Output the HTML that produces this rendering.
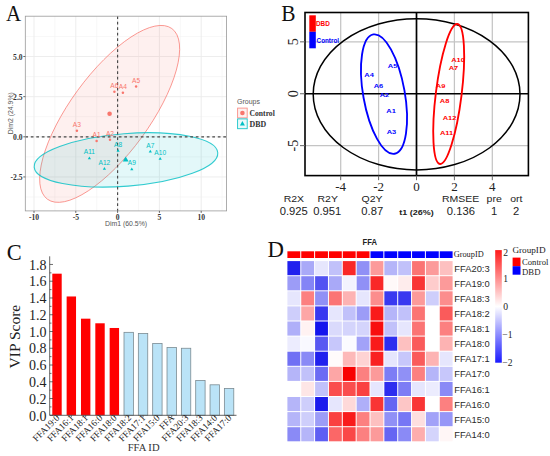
<!DOCTYPE html>
<html><head><meta charset="utf-8"><style>
html,body{margin:0;padding:0;background:#fff;}
svg{display:block;}
</style></head><body>
<svg width="550" height="456" viewBox="0 0 550 456">
<rect width="550" height="456" fill="#fff"/>
<text transform="translate(5.9 20.6) scale(0.92 1)" font-family="'Liberation Serif', serif" font-size="22.8" fill="#111">A</text>
<rect x="25.3" y="16.2" width="201.29999999999998" height="194.70000000000002" fill="#fff"/>
<path d="M54.90 16.2V210.9M96.70 16.2V210.9M138.50 16.2V210.9M180.30 16.2V210.9M222.10 16.2V210.9M25.3 197.03H226.6M25.3 156.88H226.6M25.3 116.73H226.6M25.3 76.58H226.6M25.3 36.43H226.6" stroke="#f2f2f2" stroke-width="0.6" fill="none"/>
<path d="M34.00 16.2V210.9M75.80 16.2V210.9M117.60 16.2V210.9M159.40 16.2V210.9M201.20 16.2V210.9M25.3 176.95H226.6M25.3 136.80H226.6M25.3 96.65H226.6M25.3 56.50H226.6" stroke="#ebebeb" stroke-width="0.9" fill="none"/>
<ellipse cx="109.66" cy="113.9" rx="105.6" ry="39.7" transform="rotate(-53.9 109.66 113.9)" fill="#F8766D" fill-opacity="0.11" stroke="#F8766D" stroke-width="0.9" stroke-opacity="0.75"/>
<ellipse cx="125.98" cy="159.9" rx="92.07" ry="26.3" transform="rotate(-4.5 125.98 159.9)" fill="#00BFC4" fill-opacity="0.11" stroke="#00BFC4" stroke-width="1.1" stroke-opacity="0.8"/>
<path d="M25.3 136.8H226.6M117.6 16.2V210.9" stroke="#484848" stroke-width="1.15" stroke-dasharray="2.7 2.8" fill="none"/>
<rect x="25.3" y="16.2" width="201.29999999999998" height="194.70000000000002" fill="none" stroke="#999" stroke-width="0.8"/>
<circle cx="96.6" cy="140.9" r="1.25" fill="#F8766D"/>
<text x="96.6" y="137.1" font-family="'Liberation Sans', sans-serif" font-size="6.6" fill="#F8766D" text-anchor="middle">A1</text>
<circle cx="110" cy="139.8" r="1.25" fill="#F8766D"/>
<text x="110" y="136.0" font-family="'Liberation Sans', sans-serif" font-size="6.6" fill="#F8766D" text-anchor="middle">A2</text>
<circle cx="76.9" cy="130.8" r="1.25" fill="#F8766D"/>
<text x="76.9" y="127.00000000000001" font-family="'Liberation Sans', sans-serif" font-size="6.6" fill="#F8766D" text-anchor="middle">A3</text>
<circle cx="122.9" cy="92.8" r="1.25" fill="#F8766D"/>
<text x="122.9" y="89.0" font-family="'Liberation Sans', sans-serif" font-size="6.6" fill="#F8766D" text-anchor="middle">A4</text>
<circle cx="136.1" cy="86.4" r="1.25" fill="#F8766D"/>
<text x="136.1" y="82.60000000000001" font-family="'Liberation Sans', sans-serif" font-size="6.6" fill="#F8766D" text-anchor="middle">A5</text>
<circle cx="114.4" cy="91.7" r="1.25" fill="#F8766D"/>
<text x="114.4" y="87.9" font-family="'Liberation Sans', sans-serif" font-size="6.6" fill="#F8766D" text-anchor="middle">A6</text>
<path d="M150.3 149.8L151.9 152.5L148.70000000000002 152.5Z" fill="#00BFC4"/>
<text x="150.3" y="147.6" font-family="'Liberation Sans', sans-serif" font-size="6.6" fill="#00BFC4" text-anchor="middle">A7</text>
<path d="M118.1 149.1L119.69999999999999 151.79999999999998L116.5 151.79999999999998Z" fill="#00BFC4"/>
<text x="118.1" y="146.89999999999998" font-family="'Liberation Sans', sans-serif" font-size="6.6" fill="#00BFC4" text-anchor="middle">A8</text>
<path d="M131.8 167.6L133.4 170.29999999999998L130.20000000000002 170.29999999999998Z" fill="#00BFC4"/>
<text x="131.8" y="165.39999999999998" font-family="'Liberation Sans', sans-serif" font-size="6.6" fill="#00BFC4" text-anchor="middle">A9</text>
<path d="M160.2 157.1L161.79999999999998 159.79999999999998L158.6 159.79999999999998Z" fill="#00BFC4"/>
<text x="160.2" y="154.89999999999998" font-family="'Liberation Sans', sans-serif" font-size="6.6" fill="#00BFC4" text-anchor="middle">A10</text>
<path d="M89.4 156.5L91.0 159.2L87.80000000000001 159.2Z" fill="#00BFC4"/>
<text x="89.4" y="154.29999999999998" font-family="'Liberation Sans', sans-serif" font-size="6.6" fill="#00BFC4" text-anchor="middle">A11</text>
<path d="M104.4 167.0L106.0 169.7L102.80000000000001 169.7Z" fill="#00BFC4"/>
<text x="104.4" y="164.79999999999998" font-family="'Liberation Sans', sans-serif" font-size="6.6" fill="#00BFC4" text-anchor="middle">A12</text>
<circle cx="109.6" cy="113.7" r="2.3" fill="#F8766D"/>
<path d="M125.7 156.4L128.6 161.6L122.8 161.6Z" fill="#00BFC4"/>
<path d="M34.00 210.9v2M75.80 210.9v2M117.60 210.9v2M159.40 210.9v2M201.20 210.9v2M25.3 176.95h-2M25.3 136.80h-2M25.3 96.65h-2M25.3 56.50h-2" stroke="#444" stroke-width="0.8"/>
<text x="34.00" y="220.1" font-family="'Liberation Serif', serif" font-size="7.6" font-weight="bold" fill="#333" text-anchor="middle">-10</text>
<text x="75.80" y="220.1" font-family="'Liberation Serif', serif" font-size="7.6" font-weight="bold" fill="#333" text-anchor="middle">-5</text>
<text x="117.60" y="220.1" font-family="'Liberation Serif', serif" font-size="7.6" font-weight="bold" fill="#333" text-anchor="middle">0</text>
<text x="159.40" y="220.1" font-family="'Liberation Serif', serif" font-size="7.6" font-weight="bold" fill="#333" text-anchor="middle">5</text>
<text x="201.20" y="220.1" font-family="'Liberation Serif', serif" font-size="7.6" font-weight="bold" fill="#333" text-anchor="middle">10</text>
<text x="22.6" y="180.15" font-family="'Liberation Serif', serif" font-size="7.6" font-weight="bold" fill="#333" text-anchor="end">-2.5</text>
<text x="22.6" y="140.00" font-family="'Liberation Serif', serif" font-size="7.6" font-weight="bold" fill="#333" text-anchor="end">0.0</text>
<text x="22.6" y="99.85" font-family="'Liberation Serif', serif" font-size="7.6" font-weight="bold" fill="#333" text-anchor="end">2.5</text>
<text x="22.6" y="59.70" font-family="'Liberation Serif', serif" font-size="7.6" font-weight="bold" fill="#333" text-anchor="end">5.0</text>
<text x="126" y="226" font-family="'Liberation Sans', sans-serif" font-size="6.9" fill="#555" text-anchor="middle">Dim1 (60.5%)</text>
<text transform="translate(13 113.2) rotate(-90)" font-family="'Liberation Sans', sans-serif" font-size="6.9" fill="#555" text-anchor="middle">Dim2 (24.9%)</text>
<text x="237" y="104.3" font-family="'Liberation Sans', sans-serif" font-size="7" fill="#555">Groups</text>
<rect x="237.6" y="108.1" width="9.6" height="9.8" fill="#fdf0ef" stroke="#F8766D" stroke-opacity="0.8" stroke-width="0.9"/>
<circle cx="242.4" cy="113" r="2.3" fill="#F8766D"/>
<rect x="237.6" y="118.9" width="9.6" height="9.8" fill="#eafafa" stroke="#00BFC4" stroke-opacity="0.9" stroke-width="0.9"/>
<path d="M242.4 121.1L244.9 125.6L239.9 125.6Z" fill="#00BFC4"/>
<text x="249.6" y="115.9" font-family="'Liberation Serif', serif" font-size="7.6" font-weight="bold" fill="#333">Control</text>
<text x="249.6" y="126.6" font-family="'Liberation Serif', serif" font-size="7.9" font-weight="bold" fill="#333">DBD</text>
<text transform="translate(281.3 20.8) scale(0.92 1)" font-family="'Liberation Serif', serif" font-size="23.3" fill="#111">B</text>
<path d="M340.70 12.5V175.6M378.60 12.5V175.6M454.40 12.5V175.6M492.30 12.5V175.6M305.0 145.65H528.4M305.0 41.85H528.4" stroke="#c4c4c4" stroke-width="1.25" fill="none"/>
<path d="M305.0 93.75H528.4M416.5 12.5V175.6" stroke="#000" stroke-width="1.7" fill="none"/>
<ellipse cx="416.6" cy="94.3" rx="103.4" ry="75.6" fill="none" stroke="#000" stroke-width="1.5"/>
<ellipse cx="384.0" cy="94.1" rx="20.76" ry="60.6" transform="rotate(-10.1 384.0 94.1)" fill="none" stroke="#0000ff" stroke-width="1.85"/>
<ellipse cx="448.7" cy="94.0" rx="12.88" ry="70.5" transform="rotate(7.1 448.7 94.0)" fill="none" stroke="#ff0000" stroke-width="1.85"/>
<rect x="305.0" y="12.5" width="223.39999999999998" height="163.1" fill="none" stroke="#000" stroke-width="1.6"/>
<rect x="309.3" y="15.3" width="6.5" height="16.5" fill="#ff0000"/>
<rect x="309.3" y="31.8" width="6.5" height="16.5" fill="#0000ff"/>
<text x="316.0" y="25.9" font-family="'Liberation Sans', sans-serif" font-size="6.4" font-weight="bold" fill="#ff0000">DBD</text>
<text x="316.6" y="42.5" font-family="'Liberation Sans', sans-serif" font-size="6.3" font-weight="bold" fill="#0000ff">Control</text>
<text transform="translate(392.6 67.75) scale(1.22 1)" font-family="'Liberation Sans', sans-serif" font-size="6.1" font-weight="bold" fill="#0000ff" text-anchor="middle">A5</text>
<text transform="translate(369.1 76.9) scale(1.22 1)" font-family="'Liberation Sans', sans-serif" font-size="6.1" font-weight="bold" fill="#0000ff" text-anchor="middle">A4</text>
<text transform="translate(378.5 88.35000000000001) scale(1.22 1)" font-family="'Liberation Sans', sans-serif" font-size="6.1" font-weight="bold" fill="#0000ff" text-anchor="middle">A6</text>
<text transform="translate(384.4 96.80000000000001) scale(1.22 1)" font-family="'Liberation Sans', sans-serif" font-size="6.1" font-weight="bold" fill="#0000ff" text-anchor="middle">A2</text>
<text transform="translate(391.1 113.35000000000001) scale(1.22 1)" font-family="'Liberation Sans', sans-serif" font-size="6.1" font-weight="bold" fill="#0000ff" text-anchor="middle">A1</text>
<text transform="translate(391.4 134.05) scale(1.22 1)" font-family="'Liberation Sans', sans-serif" font-size="6.1" font-weight="bold" fill="#0000ff" text-anchor="middle">A3</text>
<text transform="translate(458 61.65) scale(1.22 1)" font-family="'Liberation Sans', sans-serif" font-size="6.1" font-weight="bold" fill="#ff0000" text-anchor="middle">A10</text>
<text transform="translate(453.4 70.15) scale(1.22 1)" font-family="'Liberation Sans', sans-serif" font-size="6.1" font-weight="bold" fill="#ff0000" text-anchor="middle">A7</text>
<text transform="translate(440.6 88.45) scale(1.22 1)" font-family="'Liberation Sans', sans-serif" font-size="6.1" font-weight="bold" fill="#ff0000" text-anchor="middle">A9</text>
<text transform="translate(444.6 102.85000000000001) scale(1.22 1)" font-family="'Liberation Sans', sans-serif" font-size="6.1" font-weight="bold" fill="#ff0000" text-anchor="middle">A8</text>
<text transform="translate(449.5 119.65) scale(1.22 1)" font-family="'Liberation Sans', sans-serif" font-size="6.1" font-weight="bold" fill="#ff0000" text-anchor="middle">A12</text>
<text transform="translate(446.6 135.05) scale(1.22 1)" font-family="'Liberation Sans', sans-serif" font-size="6.1" font-weight="bold" fill="#ff0000" text-anchor="middle">A11</text>
<path d="M340.70 175.6v4.6M378.60 175.6v4.6M416.50 175.6v4.6M454.40 175.6v4.6M492.30 175.6v4.6M305.0 145.65h-5M305.0 93.75h-5M305.0 41.85h-5" stroke="#666" stroke-width="1"/>
<text x="340.70" y="190.9" font-family="'Liberation Serif', serif" font-size="13" fill="#222" text-anchor="middle">-4</text>
<text x="378.60" y="190.9" font-family="'Liberation Serif', serif" font-size="13" fill="#222" text-anchor="middle">-2</text>
<text x="416.50" y="190.9" font-family="'Liberation Serif', serif" font-size="13" fill="#222" text-anchor="middle">0</text>
<text x="454.40" y="190.9" font-family="'Liberation Serif', serif" font-size="13" fill="#222" text-anchor="middle">2</text>
<text x="492.30" y="190.9" font-family="'Liberation Serif', serif" font-size="13" fill="#222" text-anchor="middle">4</text>
<text transform="translate(297.9 145.65) rotate(-90)" font-family="'Liberation Serif', serif" font-size="14" fill="#222" text-anchor="middle">-5</text>
<text transform="translate(297.9 93.75) rotate(-90)" font-family="'Liberation Serif', serif" font-size="14" fill="#222" text-anchor="middle">0</text>
<text transform="translate(297.9 41.85) rotate(-90)" font-family="'Liberation Serif', serif" font-size="14" fill="#222" text-anchor="middle">5</text>
<text transform="translate(293.9 202.1) scale(1.12 1)" font-family="'Liberation Sans', sans-serif" font-size="9.4" fill="#222" text-anchor="middle">R2X</text>
<text transform="translate(327.7 202.1) scale(1.12 1)" font-family="'Liberation Sans', sans-serif" font-size="9.4" fill="#222" text-anchor="middle">R2Y</text>
<text transform="translate(372 202.1) scale(1.12 1)" font-family="'Liberation Sans', sans-serif" font-size="9.4" fill="#222" text-anchor="middle">Q2Y</text>
<text transform="translate(460.65 202.1) scale(1.12 1)" font-family="'Liberation Sans', sans-serif" font-size="9.4" fill="#222" text-anchor="middle">RMSEE</text>
<text transform="translate(494.15 202.1) scale(1.12 1)" font-family="'Liberation Sans', sans-serif" font-size="9.4" fill="#222" text-anchor="middle">pre</text>
<text transform="translate(516.35 202.1) scale(1.12 1)" font-family="'Liberation Sans', sans-serif" font-size="9.4" fill="#222" text-anchor="middle">ort</text>
<text transform="translate(293.8 214.6) scale(1.04 1)" font-family="'Liberation Sans', sans-serif" font-size="10.8" fill="#222" text-anchor="middle">0.925</text>
<text transform="translate(327.2 214.6) scale(1.04 1)" font-family="'Liberation Sans', sans-serif" font-size="10.8" fill="#222" text-anchor="middle">0.951</text>
<text transform="translate(372.2 214.6) scale(1.04 1)" font-family="'Liberation Sans', sans-serif" font-size="10.8" fill="#222" text-anchor="middle">0.87</text>
<text transform="translate(460.9 214.6) scale(1.04 1)" font-family="'Liberation Sans', sans-serif" font-size="10.8" fill="#222" text-anchor="middle">0.136</text>
<text transform="translate(494.2 214.6) scale(1.04 1)" font-family="'Liberation Sans', sans-serif" font-size="10.8" fill="#222" text-anchor="middle">1</text>
<text transform="translate(516.2 214.6) scale(1.04 1)" font-family="'Liberation Sans', sans-serif" font-size="10.8" fill="#222" text-anchor="middle">2</text>
<text transform="translate(416.5 214.6) scale(1.15 1)" font-family="'Liberation Sans', sans-serif" font-size="7.8" font-weight="bold" fill="#222" text-anchor="middle">t1 (26%)</text>
<text transform="translate(6.8 259.6) scale(0.95 1)" font-family="'Liberation Serif', serif" font-size="23.6" fill="#111">C</text>
<rect x="52.30" y="273.68" width="9.4" height="141.62" fill="#ff0000"/>
<rect x="66.64" y="296.47" width="9.4" height="118.83" fill="#ff0000"/>
<rect x="80.98" y="318.68" width="9.4" height="96.62" fill="#ff0000"/>
<rect x="95.32" y="323.29" width="9.4" height="92.01" fill="#ff0000"/>
<rect x="109.66" y="327.98" width="9.4" height="87.32" fill="#ff0000"/>
<rect x="124.00" y="332.34" width="9.4" height="82.96" fill="#bae3f7" stroke="#7b8b92" stroke-width="0.8"/>
<rect x="138.34" y="333.51" width="9.4" height="81.79" fill="#bae3f7" stroke="#7b8b92" stroke-width="0.8"/>
<rect x="152.68" y="343.48" width="9.4" height="71.82" fill="#bae3f7" stroke="#7b8b92" stroke-width="0.8"/>
<rect x="167.02" y="347.42" width="9.4" height="67.88" fill="#bae3f7" stroke="#7b8b92" stroke-width="0.8"/>
<rect x="181.36" y="348.26" width="9.4" height="67.04" fill="#bae3f7" stroke="#7b8b92" stroke-width="0.8"/>
<rect x="195.70" y="380.44" width="9.4" height="34.86" fill="#bae3f7" stroke="#7b8b92" stroke-width="0.8"/>
<rect x="210.04" y="384.80" width="9.4" height="30.50" fill="#bae3f7" stroke="#7b8b92" stroke-width="0.8"/>
<rect x="224.38" y="388.48" width="9.4" height="26.82" fill="#bae3f7" stroke="#7b8b92" stroke-width="0.8"/>
<path d="M49.7 256.3V415.3H236.5" stroke="#555" stroke-width="0.9" fill="none"/>
<path d="M49.7 415.30h3.3M49.7 406.92h1.8M49.7 398.54h3.3M49.7 390.16h1.8M49.7 381.78h3.3M49.7 373.40h1.8M49.7 365.02h3.3M49.7 356.64h1.8M49.7 348.26h3.3M49.7 339.88h1.8M49.7 331.50h3.3M49.7 323.12h1.8M49.7 314.74h3.3M49.7 306.36h1.8M49.7 297.98h3.3M49.7 289.60h1.8M49.7 281.22h3.3M49.7 272.84h1.8M49.7 264.46h3.3M57.00 415.3v2M71.34 415.3v2M85.68 415.3v2M100.02 415.3v2M114.36 415.3v2M128.70 415.3v2M143.04 415.3v2M157.38 415.3v2M171.72 415.3v2M186.06 415.3v2M200.40 415.3v2M214.74 415.3v2M229.08 415.3v2" stroke="#333" stroke-width="0.7"/>
<text x="46.4" y="420.50" font-family="'Liberation Serif', serif" font-size="14" fill="#222" text-anchor="end">0.0</text>
<text x="46.4" y="403.74" font-family="'Liberation Serif', serif" font-size="14" fill="#222" text-anchor="end">0.2</text>
<text x="46.4" y="386.98" font-family="'Liberation Serif', serif" font-size="14" fill="#222" text-anchor="end">0.4</text>
<text x="46.4" y="370.22" font-family="'Liberation Serif', serif" font-size="14" fill="#222" text-anchor="end">0.6</text>
<text x="46.4" y="353.46" font-family="'Liberation Serif', serif" font-size="14" fill="#222" text-anchor="end">0.8</text>
<text x="46.4" y="336.70" font-family="'Liberation Serif', serif" font-size="14" fill="#222" text-anchor="end">1.0</text>
<text x="46.4" y="319.94" font-family="'Liberation Serif', serif" font-size="14" fill="#222" text-anchor="end">1.2</text>
<text x="46.4" y="303.18" font-family="'Liberation Serif', serif" font-size="14" fill="#222" text-anchor="end">1.4</text>
<text x="46.4" y="286.42" font-family="'Liberation Serif', serif" font-size="14" fill="#222" text-anchor="end">1.6</text>
<text x="46.4" y="269.66" font-family="'Liberation Serif', serif" font-size="14" fill="#222" text-anchor="end">1.8</text>
<text transform="translate(60.00 418.5) rotate(-45)" font-family="'Liberation Serif', serif" font-size="9.4" fill="#222" text-anchor="end">FFA19:0</text>
<text transform="translate(74.34 418.5) rotate(-45)" font-family="'Liberation Serif', serif" font-size="9.4" fill="#222" text-anchor="end">FFA16:1</text>
<text transform="translate(88.68 418.5) rotate(-45)" font-family="'Liberation Serif', serif" font-size="9.4" fill="#222" text-anchor="end">FFA18:1</text>
<text transform="translate(103.02 418.5) rotate(-45)" font-family="'Liberation Serif', serif" font-size="9.4" fill="#222" text-anchor="end">FFA16:0</text>
<text transform="translate(117.36 418.5) rotate(-45)" font-family="'Liberation Serif', serif" font-size="9.4" fill="#222" text-anchor="end">FFA18:0</text>
<text transform="translate(131.70 418.5) rotate(-45)" font-family="'Liberation Serif', serif" font-size="9.4" fill="#222" text-anchor="end">FFA18:2</text>
<text transform="translate(146.04 418.5) rotate(-45)" font-family="'Liberation Serif', serif" font-size="9.4" fill="#222" text-anchor="end">FFA17:1</text>
<text transform="translate(160.38 418.5) rotate(-45)" font-family="'Liberation Serif', serif" font-size="9.4" fill="#222" text-anchor="end">FFA15:0</text>
<text transform="translate(174.72 418.5) rotate(-45)" font-family="'Liberation Serif', serif" font-size="9.4" fill="#222" text-anchor="end">FFA</text>
<text transform="translate(189.06 418.5) rotate(-45)" font-family="'Liberation Serif', serif" font-size="9.4" fill="#222" text-anchor="end">FFA20:3</text>
<text transform="translate(203.40 418.5) rotate(-45)" font-family="'Liberation Serif', serif" font-size="9.4" fill="#222" text-anchor="end">FFA18:3</text>
<text transform="translate(217.74 418.5) rotate(-45)" font-family="'Liberation Serif', serif" font-size="9.4" fill="#222" text-anchor="end">FFA14:0</text>
<text transform="translate(232.08 418.5) rotate(-45)" font-family="'Liberation Serif', serif" font-size="9.4" fill="#222" text-anchor="end">FFA17:0</text>
<text transform="translate(20.2 336.6) rotate(-90)" font-family="'Liberation Serif', serif" font-size="15.5" fill="#222" text-anchor="middle">VIP Score</text>
<text x="143.6" y="450.9" font-family="'Liberation Serif', serif" font-size="10.6" fill="#333" text-anchor="middle">FFA ID</text>
<text transform="translate(267.6 256.5) scale(0.95 1)" font-family="'Liberation Serif', serif" font-size="24" fill="#111">D</text>
<text transform="translate(369.8 244.9) scale(0.92 1)" font-family="'Liberation Sans', sans-serif" font-size="8.3" font-weight="bold" fill="#222" text-anchor="middle">FFA</text>
<rect x="287.40" y="251.3" width="12.85" height="6.7" fill="#ff0000"/>
<rect x="301.25" y="251.3" width="12.85" height="6.7" fill="#ff0000"/>
<rect x="315.10" y="251.3" width="12.85" height="6.7" fill="#ff0000"/>
<rect x="328.95" y="251.3" width="12.85" height="6.7" fill="#ff0000"/>
<rect x="342.80" y="251.3" width="12.85" height="6.7" fill="#ff0000"/>
<rect x="356.65" y="251.3" width="12.85" height="6.7" fill="#ff0000"/>
<rect x="370.50" y="251.3" width="12.85" height="6.7" fill="#0000ff"/>
<rect x="384.35" y="251.3" width="12.85" height="6.7" fill="#0000ff"/>
<rect x="398.20" y="251.3" width="12.85" height="6.7" fill="#0000ff"/>
<rect x="412.05" y="251.3" width="12.85" height="6.7" fill="#0000ff"/>
<rect x="425.90" y="251.3" width="12.85" height="6.7" fill="#0000ff"/>
<rect x="439.75" y="251.3" width="12.85" height="6.7" fill="#0000ff"/>
<rect x="287.40" y="261.10" width="12.85" height="14.10" fill="#2121ee"/>
<rect x="301.25" y="261.10" width="12.85" height="14.10" fill="#a9a9f8"/>
<rect x="315.10" y="261.10" width="12.85" height="14.10" fill="#e6e6fd"/>
<rect x="328.95" y="261.10" width="12.85" height="14.10" fill="#c1c1fa"/>
<rect x="342.80" y="261.10" width="12.85" height="14.10" fill="#f92828"/>
<rect x="356.65" y="261.10" width="12.85" height="14.10" fill="#9090f6"/>
<rect x="370.50" y="261.10" width="12.85" height="14.10" fill="#fc9a9a"/>
<rect x="384.35" y="261.10" width="12.85" height="14.10" fill="#b5b5f9"/>
<rect x="398.20" y="261.10" width="12.85" height="14.10" fill="#c1c1fa"/>
<rect x="412.05" y="261.10" width="12.85" height="14.10" fill="#fb7474"/>
<rect x="425.90" y="261.10" width="12.85" height="14.10" fill="#fc9a9a"/>
<rect x="439.75" y="261.10" width="12.85" height="14.10" fill="#fdc0c0"/>
<text transform="translate(454.3 271.70) scale(0.945 1)" font-family="'Liberation Sans', sans-serif" font-size="9.9" fill="#2a2a2a">FFA20:3</text>
<rect x="287.40" y="276.20" width="12.85" height="14.10" fill="#9c9cf7"/>
<rect x="301.25" y="276.20" width="12.85" height="14.10" fill="#8484f6"/>
<rect x="315.10" y="276.20" width="12.85" height="14.10" fill="#5252f2"/>
<rect x="328.95" y="276.20" width="12.85" height="14.10" fill="#a9a9f8"/>
<rect x="342.80" y="276.20" width="12.85" height="14.10" fill="#f3f3fe"/>
<rect x="356.65" y="276.20" width="12.85" height="14.10" fill="#9090f6"/>
<rect x="370.50" y="276.20" width="12.85" height="14.10" fill="#f92828"/>
<rect x="384.35" y="276.20" width="12.85" height="14.10" fill="#fff9f9"/>
<rect x="398.20" y="276.20" width="12.85" height="14.10" fill="#feecec"/>
<rect x="412.05" y="276.20" width="12.85" height="14.10" fill="#f93535"/>
<rect x="425.90" y="276.20" width="12.85" height="14.10" fill="#fecccc"/>
<rect x="439.75" y="276.20" width="12.85" height="14.10" fill="#fc9a9a"/>
<text transform="translate(454.3 286.80) scale(0.945 1)" font-family="'Liberation Sans', sans-serif" font-size="9.9" fill="#2a2a2a">FFA19:0</text>
<rect x="287.40" y="291.30" width="12.85" height="14.10" fill="#e6e6fd"/>
<rect x="301.25" y="291.30" width="12.85" height="14.10" fill="#fc8080"/>
<rect x="315.10" y="291.30" width="12.85" height="14.10" fill="#9090f6"/>
<rect x="328.95" y="291.30" width="12.85" height="14.10" fill="#fb7474"/>
<rect x="342.80" y="291.30" width="12.85" height="14.10" fill="#fdb3b3"/>
<rect x="356.65" y="291.30" width="12.85" height="14.10" fill="#e6e6fd"/>
<rect x="370.50" y="291.30" width="12.85" height="14.10" fill="#fc8d8d"/>
<rect x="384.35" y="291.30" width="12.85" height="14.10" fill="#3939f0"/>
<rect x="398.20" y="291.30" width="12.85" height="14.10" fill="#3939f0"/>
<rect x="412.05" y="291.30" width="12.85" height="14.10" fill="#fc9a9a"/>
<rect x="425.90" y="291.30" width="12.85" height="14.10" fill="#cecefb"/>
<rect x="439.75" y="291.30" width="12.85" height="14.10" fill="#fc8d8d"/>
<text transform="translate(454.3 301.90) scale(0.945 1)" font-family="'Liberation Sans', sans-serif" font-size="9.9" fill="#2a2a2a">FFA18:3</text>
<rect x="287.40" y="306.40" width="12.85" height="14.10" fill="#cecefb"/>
<rect x="301.25" y="306.40" width="12.85" height="14.10" fill="#fda6a6"/>
<rect x="315.10" y="306.40" width="12.85" height="14.10" fill="#3939f0"/>
<rect x="328.95" y="306.40" width="12.85" height="14.10" fill="#e6e6fd"/>
<rect x="342.80" y="306.40" width="12.85" height="14.10" fill="#c1c1fa"/>
<rect x="356.65" y="306.40" width="12.85" height="14.10" fill="#9c9cf7"/>
<rect x="370.50" y="306.40" width="12.85" height="14.10" fill="#f91b1b"/>
<rect x="384.35" y="306.40" width="12.85" height="14.10" fill="#b5b5f9"/>
<rect x="398.20" y="306.40" width="12.85" height="14.10" fill="#c1c1fa"/>
<rect x="412.05" y="306.40" width="12.85" height="14.10" fill="#fb7474"/>
<rect x="425.90" y="306.40" width="12.85" height="14.10" fill="#ffffff"/>
<rect x="439.75" y="306.40" width="12.85" height="14.10" fill="#fa5b5b"/>
<text transform="translate(454.3 317.00) scale(0.945 1)" font-family="'Liberation Sans', sans-serif" font-size="9.9" fill="#2a2a2a">FFA18:2</text>
<rect x="287.40" y="321.50" width="12.85" height="14.10" fill="#afaff9"/>
<rect x="301.25" y="321.50" width="12.85" height="14.10" fill="#fff2f2"/>
<rect x="315.10" y="321.50" width="12.85" height="14.10" fill="#1414ed"/>
<rect x="328.95" y="321.50" width="12.85" height="14.10" fill="#dadafc"/>
<rect x="342.80" y="321.50" width="12.85" height="14.10" fill="#d4d4fc"/>
<rect x="356.65" y="321.50" width="12.85" height="14.10" fill="#d4d4fc"/>
<rect x="370.50" y="321.50" width="12.85" height="14.10" fill="#f80f0f"/>
<rect x="384.35" y="321.50" width="12.85" height="14.10" fill="#c1c1fa"/>
<rect x="398.20" y="321.50" width="12.85" height="14.10" fill="#e6e6fd"/>
<rect x="412.05" y="321.50" width="12.85" height="14.10" fill="#fb7474"/>
<rect x="425.90" y="321.50" width="12.85" height="14.10" fill="#ffffff"/>
<rect x="439.75" y="321.50" width="12.85" height="14.10" fill="#fc8080"/>
<text transform="translate(454.3 332.10) scale(0.945 1)" font-family="'Liberation Sans', sans-serif" font-size="9.9" fill="#2a2a2a">FFA18:1</text>
<rect x="287.40" y="336.60" width="12.85" height="14.10" fill="#ececfe"/>
<rect x="301.25" y="336.60" width="12.85" height="14.10" fill="#f9f9ff"/>
<rect x="315.10" y="336.60" width="12.85" height="14.10" fill="#5858f2"/>
<rect x="328.95" y="336.60" width="12.85" height="14.10" fill="#c7c7fb"/>
<rect x="342.80" y="336.60" width="12.85" height="14.10" fill="#fbfbff"/>
<rect x="356.65" y="336.60" width="12.85" height="14.10" fill="#a2a2f8"/>
<rect x="370.50" y="336.60" width="12.85" height="14.10" fill="#f91b1b"/>
<rect x="384.35" y="336.60" width="12.85" height="14.10" fill="#2d2def"/>
<rect x="398.20" y="336.60" width="12.85" height="14.10" fill="#fdc0c0"/>
<rect x="412.05" y="336.60" width="12.85" height="14.10" fill="#fa5b5b"/>
<rect x="425.90" y="336.60" width="12.85" height="14.10" fill="#ffffff"/>
<rect x="439.75" y="336.60" width="12.85" height="14.10" fill="#fdb3b3"/>
<text transform="translate(454.3 347.20) scale(0.945 1)" font-family="'Liberation Sans', sans-serif" font-size="9.9" fill="#2a2a2a">FFA18:0</text>
<rect x="287.40" y="351.70" width="12.85" height="14.10" fill="#7171f4"/>
<rect x="301.25" y="351.70" width="12.85" height="14.10" fill="#8a8af6"/>
<rect x="315.10" y="351.70" width="12.85" height="14.10" fill="#2121ee"/>
<rect x="328.95" y="351.70" width="12.85" height="14.10" fill="#fffbfb"/>
<rect x="342.80" y="351.70" width="12.85" height="14.10" fill="#fdb9b9"/>
<rect x="356.65" y="351.70" width="12.85" height="14.10" fill="#fed3d3"/>
<rect x="370.50" y="351.70" width="12.85" height="14.10" fill="#f92222"/>
<rect x="384.35" y="351.70" width="12.85" height="14.10" fill="#e6e6fd"/>
<rect x="398.20" y="351.70" width="12.85" height="14.10" fill="#c7c7fb"/>
<rect x="412.05" y="351.70" width="12.85" height="14.10" fill="#fa5b5b"/>
<rect x="425.90" y="351.70" width="12.85" height="14.10" fill="#fdb3b3"/>
<rect x="439.75" y="351.70" width="12.85" height="14.10" fill="#e6e6fd"/>
<text transform="translate(454.3 362.30) scale(0.945 1)" font-family="'Liberation Sans', sans-serif" font-size="9.9" fill="#2a2a2a">FFA17:1</text>
<rect x="287.40" y="366.80" width="12.85" height="14.10" fill="#b5b5f9"/>
<rect x="301.25" y="366.80" width="12.85" height="14.10" fill="#c1c1fa"/>
<rect x="315.10" y="366.80" width="12.85" height="14.10" fill="#6b6bf4"/>
<rect x="328.95" y="366.80" width="12.85" height="14.10" fill="#fda6a6"/>
<rect x="342.80" y="366.80" width="12.85" height="14.10" fill="#f80202"/>
<rect x="356.65" y="366.80" width="12.85" height="14.10" fill="#fc8080"/>
<rect x="370.50" y="366.80" width="12.85" height="14.10" fill="#fc9a9a"/>
<rect x="384.35" y="366.80" width="12.85" height="14.10" fill="#7d7df5"/>
<rect x="398.20" y="366.80" width="12.85" height="14.10" fill="#9090f6"/>
<rect x="412.05" y="366.80" width="12.85" height="14.10" fill="#fc8080"/>
<rect x="425.90" y="366.80" width="12.85" height="14.10" fill="#b5b5f9"/>
<rect x="439.75" y="366.80" width="12.85" height="14.10" fill="#c7c7fb"/>
<text transform="translate(454.3 377.40) scale(0.945 1)" font-family="'Liberation Sans', sans-serif" font-size="9.9" fill="#2a2a2a">FFA17:0</text>
<rect x="287.40" y="381.90" width="12.85" height="14.10" fill="#ffffff"/>
<rect x="301.25" y="381.90" width="12.85" height="14.10" fill="#fee6e6"/>
<rect x="315.10" y="381.90" width="12.85" height="14.10" fill="#c1c1fa"/>
<rect x="328.95" y="381.90" width="12.85" height="14.10" fill="#fa4e4e"/>
<rect x="342.80" y="381.90" width="12.85" height="14.10" fill="#fa4e4e"/>
<rect x="356.65" y="381.90" width="12.85" height="14.10" fill="#fa4141"/>
<rect x="370.50" y="381.90" width="12.85" height="14.10" fill="#e6e6fd"/>
<rect x="384.35" y="381.90" width="12.85" height="14.10" fill="#2d2def"/>
<rect x="398.20" y="381.90" width="12.85" height="14.10" fill="#7d7df5"/>
<rect x="412.05" y="381.90" width="12.85" height="14.10" fill="#e6e6fd"/>
<rect x="425.90" y="381.90" width="12.85" height="14.10" fill="#ececfe"/>
<rect x="439.75" y="381.90" width="12.85" height="14.10" fill="#8a8af6"/>
<text transform="translate(454.3 392.50) scale(0.945 1)" font-family="'Liberation Sans', sans-serif" font-size="9.9" fill="#2a2a2a">FFA16:1</text>
<rect x="287.40" y="397.00" width="12.85" height="14.10" fill="#b5b5f9"/>
<rect x="301.25" y="397.00" width="12.85" height="14.10" fill="#cecefb"/>
<rect x="315.10" y="397.00" width="12.85" height="14.10" fill="#1b1bed"/>
<rect x="328.95" y="397.00" width="12.85" height="14.10" fill="#e6e6fd"/>
<rect x="342.80" y="397.00" width="12.85" height="14.10" fill="#fed9d9"/>
<rect x="356.65" y="397.00" width="12.85" height="14.10" fill="#afaff9"/>
<rect x="370.50" y="397.00" width="12.85" height="14.10" fill="#f93535"/>
<rect x="384.35" y="397.00" width="12.85" height="14.10" fill="#6565f3"/>
<rect x="398.20" y="397.00" width="12.85" height="14.10" fill="#fdc6c6"/>
<rect x="412.05" y="397.00" width="12.85" height="14.10" fill="#f93535"/>
<rect x="425.90" y="397.00" width="12.85" height="14.10" fill="#ffffff"/>
<rect x="439.75" y="397.00" width="12.85" height="14.10" fill="#fc8080"/>
<text transform="translate(454.3 407.60) scale(0.945 1)" font-family="'Liberation Sans', sans-serif" font-size="9.9" fill="#2a2a2a">FFA16:0</text>
<rect x="287.40" y="412.10" width="12.85" height="14.10" fill="#b5b5f9"/>
<rect x="301.25" y="412.10" width="12.85" height="14.10" fill="#cecefb"/>
<rect x="315.10" y="412.10" width="12.85" height="14.10" fill="#9c9cf7"/>
<rect x="328.95" y="412.10" width="12.85" height="14.10" fill="#fa4141"/>
<rect x="342.80" y="412.10" width="12.85" height="14.10" fill="#f91b1b"/>
<rect x="356.65" y="412.10" width="12.85" height="14.10" fill="#fc8080"/>
<rect x="370.50" y="412.10" width="12.85" height="14.10" fill="#fdc0c0"/>
<rect x="384.35" y="412.10" width="12.85" height="14.10" fill="#9090f6"/>
<rect x="398.20" y="412.10" width="12.85" height="14.10" fill="#7777f5"/>
<rect x="412.05" y="412.10" width="12.85" height="14.10" fill="#fedfdf"/>
<rect x="425.90" y="412.10" width="12.85" height="14.10" fill="#a2a2f8"/>
<rect x="439.75" y="412.10" width="12.85" height="14.10" fill="#9696f7"/>
<text transform="translate(454.3 422.70) scale(0.945 1)" font-family="'Liberation Sans', sans-serif" font-size="9.9" fill="#2a2a2a">FFA15:0</text>
<rect x="287.40" y="427.20" width="12.85" height="14.10" fill="#8a8af6"/>
<rect x="301.25" y="427.20" width="12.85" height="14.10" fill="#b5b5f9"/>
<rect x="315.10" y="427.20" width="12.85" height="14.10" fill="#5e5ef3"/>
<rect x="328.95" y="427.20" width="12.85" height="14.10" fill="#fb6767"/>
<rect x="342.80" y="427.20" width="12.85" height="14.10" fill="#fa4848"/>
<rect x="356.65" y="427.20" width="12.85" height="14.10" fill="#fc8080"/>
<rect x="370.50" y="427.20" width="12.85" height="14.10" fill="#fc9a9a"/>
<rect x="384.35" y="427.20" width="12.85" height="14.10" fill="#6565f3"/>
<rect x="398.20" y="427.20" width="12.85" height="14.10" fill="#8a8af6"/>
<rect x="412.05" y="427.20" width="12.85" height="14.10" fill="#fdadad"/>
<rect x="425.90" y="427.20" width="12.85" height="14.10" fill="#d4d4fc"/>
<rect x="439.75" y="427.20" width="12.85" height="14.10" fill="#fff6f6"/>
<text transform="translate(454.3 437.80) scale(0.945 1)" font-family="'Liberation Sans', sans-serif" font-size="9.9" fill="#2a2a2a">FFA14:0</text>
<text x="453.7" y="257.2" font-family="'Liberation Serif', serif" font-size="8.3" fill="#222">GroupID</text>
<defs><linearGradient id="cb" x1="0" y1="0" x2="0" y2="1"><stop offset="0" stop-color="#ff1a1a"/><stop offset="0.5" stop-color="#ffffff"/><stop offset="1" stop-color="#1a1aff"/></linearGradient></defs>
<rect x="495.2" y="250.1" width="6.6" height="112.6" fill="url(#cb)"/>
<text x="503.3" y="255.50" font-family="'Liberation Serif', serif" font-size="9.6" fill="#222">2</text>
<text x="503.3" y="282.40" font-family="'Liberation Serif', serif" font-size="9.6" fill="#222">1</text>
<text x="503.3" y="310.20" font-family="'Liberation Serif', serif" font-size="9.6" fill="#222">0</text>
<text x="502.3" y="338.30" font-family="'Liberation Serif', serif" font-size="9.6" fill="#222">−1</text>
<text x="502.3" y="366.40" font-family="'Liberation Serif', serif" font-size="9.6" fill="#222">−2</text>
<text x="512.4" y="253.4" font-family="'Liberation Serif', serif" font-size="9.2" fill="#222">GroupID</text>
<rect x="512.6" y="257.6" width="7.9" height="8.6" fill="#ff0000"/>
<rect x="512.6" y="266.2" width="7.9" height="8.5" fill="#0000ff"/>
<text x="522.1" y="264.6" font-family="'Liberation Serif', serif" font-size="8.6" fill="#222">Control</text>
<text x="522.1" y="274.7" font-family="'Liberation Serif', serif" font-size="8.7" fill="#222">DBD</text>
</svg>
</body></html>
